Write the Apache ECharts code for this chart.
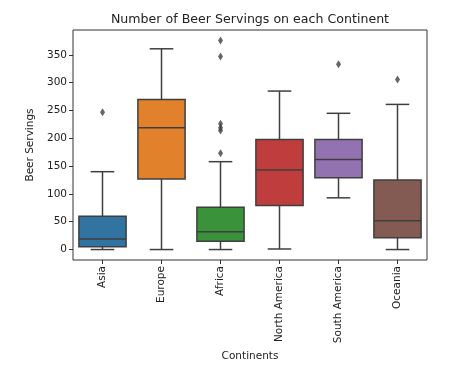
<!DOCTYPE html>
<html>
<head>
<meta charset="utf-8">
<script src="https://cdn.jsdelivr.net/npm/echarts@6/dist/echarts.min.js"></script>
<style>html,body{margin:0;padding:0;background:#fff}#c{width:474px;height:373px}</style>
</head>
<body>
<div id="c"></div>
<script>
// Data (beer servings per country, by continent)
const categories = ["Asia", "Europe", "Africa", "North America", "South America", "Oceania"];
// [min whisker, Q1, median, Q3, max whisker]
const asiaBox = [0, 5, 19, 60, 140];
const europeBox = [0, 127, 219, 270, 361];
const africaBox = [0, 15, 32, 76, 158];
const northAmericaBox = [1, 79, 143, 198, 285];
const southAmericaBox = [93, 129, 162, 198, 245];
const oceaniaBox = [0, 21, 52, 125, 261];
// outliers
const asiaOutliers = [247];
const europeOutliers = [];
const africaOutliers = [173, 214, 219, 226, 347, 376];
const northAmericaOutliers = [];
const southAmericaOutliers = [333];
const oceaniaOutliers = [306];
const yTicks = [0, 50, 100, 150, 200, 250, 300, 350];
const boxColors = ["#3274a1", "#e1812c", "#3a923a", "#c03d3e", "#9372b2", "#845b53"];

const boxes = [asiaBox, europeBox, africaBox, northAmericaBox, southAmericaBox, oceaniaBox];
const outlierLists = [asiaOutliers, europeOutliers, africaOutliers, northAmericaOutliers, southAmericaOutliers, oceaniaOutliers];
const boxData = boxes.map((b, i) => [i].concat(b));
const outlierData = [];
outlierLists.forEach((l, i) => l.forEach(v => outlierData.push([i, v])));

const allVals = [].concat(...boxes, ...outlierLists);
const dMin = Math.min(...allVals), dMax = Math.max(...allVals);
const pad = (dMax - dMin) * 0.05;

const lineColor = "#3f3f3f";
const font = "DejaVu Sans";

const chart = echarts.init(document.getElementById('c'), null, {renderer: 'canvas'});
chart.setOption({
  animation: false,
  title: {
    text: "Number of Beer Servings on each Continent",
    left: 245, top: 8, textAlign: 'center',
    textStyle: {fontFamily: font, fontSize: 12.6, fontWeight: 'normal', color: '#222'}
  },
  grid: {left: 73, right: 47, top: 30, bottom: 113, show: true, borderColor: '#333', borderWidth: 1, backgroundColor: 'transparent'},
  xAxis: {
    type: 'category', data: categories,
    name: 'Continents', nameLocation: 'middle', nameGap: 84,
    nameTextStyle: {fontFamily: font, fontSize: 10.5, color: '#222'},
    axisLine: {show: false, onZero: false},
    axisTick: {show: true, alignWithLabel: true, length: 4, lineStyle: {color: '#333'}},
    axisLabel: {rotate: 90, fontFamily: font, fontSize: 10.5, color: '#222', margin: 6},
    splitLine: {show: false}
  },
  yAxis: {
    type: 'value', min: dMin - pad, max: dMax + pad,
    name: 'Beer Servings', nameLocation: 'middle', nameGap: 29, nameRotate: 90,
    nameTextStyle: {fontFamily: font, fontSize: 10.5, color: '#222'},
    axisLine: {show: false, onZero: false},
    axisTick: {show: true, length: 4, lineStyle: {color: '#333'}, customValues: yTicks},
    axisLabel: {fontFamily: font, fontSize: 10.5, color: '#222', margin: 6, customValues: yTicks},
    splitLine: {show: false}
  },
  series: [
    {
      type: 'custom',
      data: boxData,
      encode: {x: 0, y: [1, 2, 3, 4, 5]},
      renderItem: function (params, api) {
        const i = api.value(0);
        const mn = api.value(1), q1 = api.value(2), md = api.value(3), q3 = api.value(4), mx = api.value(5);
        const band = api.size([1, 0])[0];
        const bw = band * 0.8, cw = bw * 0.5;
        const cx = api.coord([i, 0])[0];
        const y = v => api.coord([i, v])[1];
        const ls = {stroke: lineColor, lineWidth: 1.5, fill: null};
        return {
          type: 'group',
          children: [
            {type: 'line', shape: {x1: cx, y1: y(q1), x2: cx, y2: y(mn)}, style: ls},
            {type: 'line', shape: {x1: cx, y1: y(q3), x2: cx, y2: y(mx)}, style: ls},
            {type: 'line', shape: {x1: cx - cw / 2, y1: y(mn), x2: cx + cw / 2, y2: y(mn)}, style: ls},
            {type: 'line', shape: {x1: cx - cw / 2, y1: y(mx), x2: cx + cw / 2, y2: y(mx)}, style: ls},
            {type: 'rect', shape: {x: cx - bw / 2, y: y(q3), width: bw, height: y(q1) - y(q3)},
              style: {fill: boxColors[i], stroke: lineColor, lineWidth: 1.5}},
            {type: 'line', shape: {x1: cx - bw / 2, y1: y(md), x2: cx + bw / 2, y2: y(md)}, style: ls}
          ]
        };
      }
    },
    {
      type: 'scatter',
      data: outlierData,
      symbol: 'path://M0,-1L0.6,0L0,1L-0.6,0Z',
      symbolSize: [5, 8],
      itemStyle: {color: lineColor}
    }
  ]
});
</script>
</body>
</html>
